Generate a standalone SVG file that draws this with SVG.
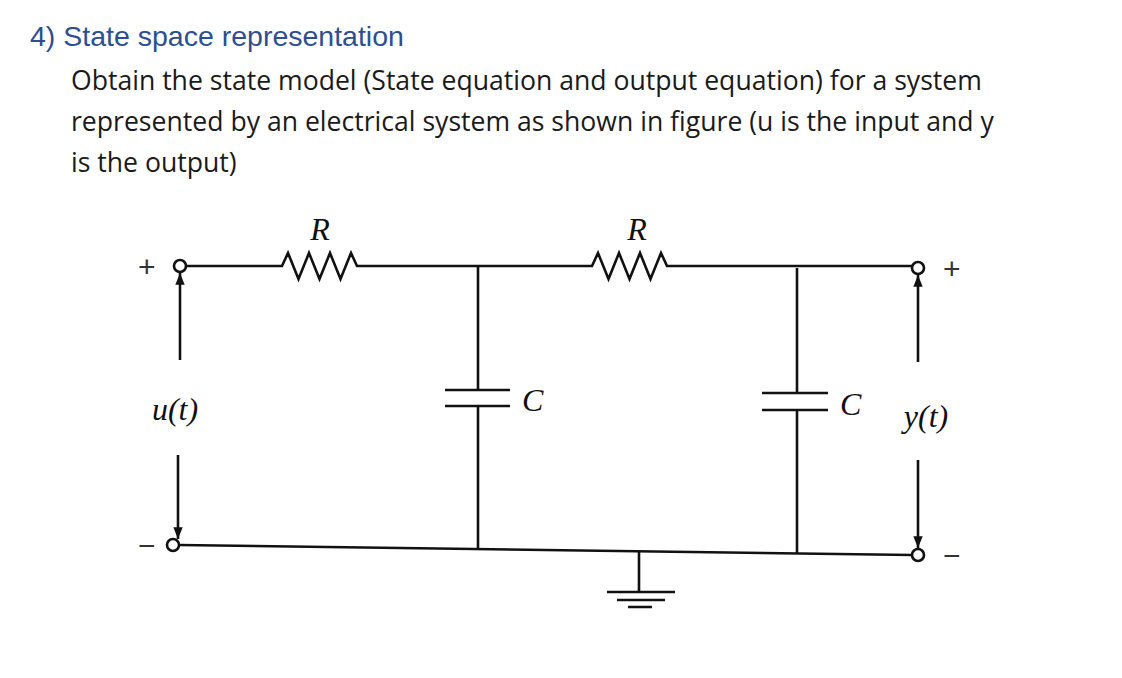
<svg xmlns="http://www.w3.org/2000/svg" width="1122" height="678" viewBox="0 0 1122 678">
<defs>
<style>
.w{fill:none;stroke:#111;stroke-width:2.6;stroke-linejoin:miter}
.t{fill:#fff;stroke:#111;stroke-width:2.6}
.lbl{font-family:"Liberation Serif",serif;font-style:italic;font-size:32px;fill:#111}
.sg{font-family:"Liberation Sans",sans-serif;font-size:30px;fill:#333}
.p{font-family:"Open Sans","Noto Sans",sans-serif;font-size:26.6px;fill:#1a1a1a}
</style>
<marker id="ah" viewBox="0 0 10 10" refX="10" refY="5" markerWidth="4.5" markerHeight="4.5" orient="auto"><path d="M0,1 L10,5 L0,9 z" fill="#111"/></marker>
</defs>
<rect width="1122" height="678" fill="#fff"/>
<text x="30" y="46" font-family="Liberation Sans,sans-serif" font-size="28.5" fill="#2d4f91">4) State space representation</text>
<text class="p" x="71" y="90">Obtain the state model (State equation and output equation) for a system</text>
<text class="p" x="71" y="131">represented by an electrical system as shown in figure (u is the input and y</text>
<text class="p" x="71" y="172">is the output)</text>
<g id="connectors">
<path class="w" d="M186,266 H282 l6,-13 l10.5,26 l10.5,-26 l10.5,26 l10.5,-26 l10.5,26 l10.5,-26 l6,13 H592 l6,-13 l10.5,26 l10.5,-26 l10.5,26 l10.5,-26 l10.5,26 l10.5,-26 l6,13 H912"/>
<path class="w" d="M179,545 L912,555"/>
<path class="w" d="M478,266 V390 M445,390 H510 M445,406 H510 M478,406 V549"/>
<path class="w" d="M797,268 V393 M762,393 H828 M762,410 H828 M797,410 V553"/>
<path class="w" d="M639,551 V592 M607,592 H675 M617,600 H665 M628,607 H652"/>
<path class="w" d="M180,360 V273" marker-end="url(#ah)"/>
<path class="w" d="M178,455 V539" marker-end="url(#ah)"/>
<path class="w" d="M918,362 V275" marker-end="url(#ah)"/>
<path class="w" d="M918,460 V548" marker-end="url(#ah)"/>
</g>
<g id="u_plus"><circle class="t" cx="180" cy="266" r="6"/><text class="sg" x="138" y="277">+</text></g>
<g id="u_minus"><circle class="t" cx="173" cy="545" r="6"/><text class="sg" x="138" y="556">−</text></g>
<g id="y_plus"><circle class="t" cx="918" cy="268" r="6"/><text class="sg" x="943" y="279">+</text></g>
<g id="y_minus"><circle class="t" cx="918" cy="555" r="6"/><text class="sg" x="943" y="566">−</text></g>
<g id="R1"><text class="lbl" x="320" y="240" text-anchor="middle">R</text></g>
<g id="R2"><text class="lbl" x="637" y="240" text-anchor="middle">R</text></g>
<g id="C1"><text class="lbl" x="522" y="411" font-style="normal">C</text></g>
<g id="C2"><text class="lbl" x="840" y="415" font-style="normal">C</text></g>
<g id="u"><text class="lbl" x="175" y="420" text-anchor="middle">u(t)</text></g>
<g id="y"><text class="lbl" x="926" y="427" text-anchor="middle">y(t)</text></g>
</svg>
